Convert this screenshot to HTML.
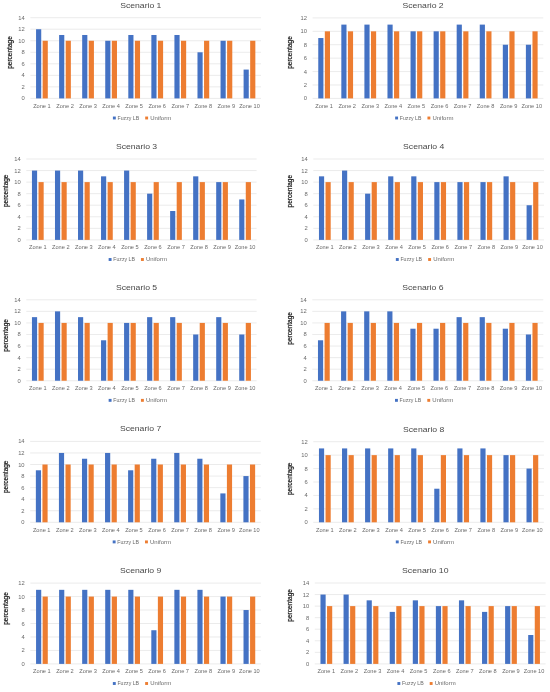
<!DOCTYPE html>
<html><head><meta charset="utf-8"><title>Scenarios</title>
<style>
html,body{margin:0;padding:0;background:#fff;}
body{width:550px;height:692px;overflow:hidden;}
svg{display:block;font-family:"Liberation Sans", sans-serif;filter:blur(0.3px);}
</style></head><body>
<svg width="550" height="692" viewBox="0 0 550 692">
<rect width="550" height="692" fill="#fff"/>
<g id="chart1">
<line x1="30.40" x2="261.00" y1="98.40" y2="98.40" stroke="#E2E2E2" stroke-width="0.7"/>
<text x="24.80" y="100.40" font-size="5.8" text-anchor="end" fill="#6a6a6a">0</text>
<line x1="30.40" x2="261.00" y1="86.87" y2="86.87" stroke="#E2E2E2" stroke-width="0.7"/>
<text x="24.80" y="88.87" font-size="5.8" text-anchor="end" fill="#6a6a6a">2</text>
<line x1="30.40" x2="261.00" y1="75.34" y2="75.34" stroke="#E2E2E2" stroke-width="0.7"/>
<text x="24.80" y="77.34" font-size="5.8" text-anchor="end" fill="#6a6a6a">4</text>
<line x1="30.40" x2="261.00" y1="63.81" y2="63.81" stroke="#E2E2E2" stroke-width="0.7"/>
<text x="24.80" y="65.81" font-size="5.8" text-anchor="end" fill="#6a6a6a">6</text>
<line x1="30.40" x2="261.00" y1="52.29" y2="52.29" stroke="#E2E2E2" stroke-width="0.7"/>
<text x="24.80" y="54.29" font-size="5.8" text-anchor="end" fill="#6a6a6a">8</text>
<line x1="30.40" x2="261.00" y1="40.76" y2="40.76" stroke="#E2E2E2" stroke-width="0.7"/>
<text x="24.80" y="42.76" font-size="5.8" text-anchor="end" fill="#6a6a6a">10</text>
<line x1="30.40" x2="261.00" y1="29.23" y2="29.23" stroke="#E2E2E2" stroke-width="0.7"/>
<text x="24.80" y="31.23" font-size="5.8" text-anchor="end" fill="#6a6a6a">12</text>
<line x1="30.40" x2="261.00" y1="17.70" y2="17.70" stroke="#E2E2E2" stroke-width="0.7"/>
<text x="24.80" y="19.70" font-size="5.8" text-anchor="end" fill="#6a6a6a">14</text>
<rect x="36.06" y="29.23" width="5.17" height="69.17" fill="#4472C4"/>
<rect x="42.63" y="40.76" width="5.17" height="57.64" fill="#ED7D31"/>
<text x="41.93" y="107.80" font-size="5.8" text-anchor="middle" fill="#6a6a6a" textLength="17.60" lengthAdjust="spacingAndGlyphs">Zone 1</text>
<rect x="59.12" y="34.99" width="5.17" height="63.41" fill="#4472C4"/>
<rect x="65.69" y="40.76" width="5.17" height="57.64" fill="#ED7D31"/>
<text x="64.99" y="107.80" font-size="5.8" text-anchor="middle" fill="#6a6a6a" textLength="17.60" lengthAdjust="spacingAndGlyphs">Zone 2</text>
<rect x="82.18" y="34.99" width="5.17" height="63.41" fill="#4472C4"/>
<rect x="88.75" y="40.76" width="5.17" height="57.64" fill="#ED7D31"/>
<text x="88.05" y="107.80" font-size="5.8" text-anchor="middle" fill="#6a6a6a" textLength="17.60" lengthAdjust="spacingAndGlyphs">Zone 3</text>
<rect x="105.24" y="40.76" width="5.17" height="57.64" fill="#4472C4"/>
<rect x="111.81" y="40.76" width="5.17" height="57.64" fill="#ED7D31"/>
<text x="111.11" y="107.80" font-size="5.8" text-anchor="middle" fill="#6a6a6a" textLength="17.60" lengthAdjust="spacingAndGlyphs">Zone 4</text>
<rect x="128.30" y="34.99" width="5.17" height="63.41" fill="#4472C4"/>
<rect x="134.87" y="40.76" width="5.17" height="57.64" fill="#ED7D31"/>
<text x="134.17" y="107.80" font-size="5.8" text-anchor="middle" fill="#6a6a6a" textLength="17.60" lengthAdjust="spacingAndGlyphs">Zone 5</text>
<rect x="151.36" y="34.99" width="5.17" height="63.41" fill="#4472C4"/>
<rect x="157.93" y="40.76" width="5.17" height="57.64" fill="#ED7D31"/>
<text x="157.23" y="107.80" font-size="5.8" text-anchor="middle" fill="#6a6a6a" textLength="17.60" lengthAdjust="spacingAndGlyphs">Zone 6</text>
<rect x="174.42" y="34.99" width="5.17" height="63.41" fill="#4472C4"/>
<rect x="180.99" y="40.76" width="5.17" height="57.64" fill="#ED7D31"/>
<text x="180.29" y="107.80" font-size="5.8" text-anchor="middle" fill="#6a6a6a" textLength="17.60" lengthAdjust="spacingAndGlyphs">Zone 7</text>
<rect x="197.48" y="52.29" width="5.17" height="46.11" fill="#4472C4"/>
<rect x="204.05" y="40.76" width="5.17" height="57.64" fill="#ED7D31"/>
<text x="203.35" y="107.80" font-size="5.8" text-anchor="middle" fill="#6a6a6a" textLength="17.60" lengthAdjust="spacingAndGlyphs">Zone 8</text>
<rect x="220.54" y="40.76" width="5.17" height="57.64" fill="#4472C4"/>
<rect x="227.11" y="40.76" width="5.17" height="57.64" fill="#ED7D31"/>
<text x="226.41" y="107.80" font-size="5.8" text-anchor="middle" fill="#6a6a6a" textLength="17.60" lengthAdjust="spacingAndGlyphs">Zone 9</text>
<rect x="243.60" y="69.58" width="5.17" height="28.82" fill="#4472C4"/>
<rect x="250.17" y="40.76" width="5.17" height="57.64" fill="#ED7D31"/>
<text x="249.47" y="107.80" font-size="5.8" text-anchor="middle" fill="#6a6a6a" textLength="20.60" lengthAdjust="spacingAndGlyphs">Zone 10</text>
<text x="140.80" y="7.75" font-size="7.7" text-anchor="middle" fill="#484848" textLength="41.30" lengthAdjust="spacingAndGlyphs">Scenario 1</text>
<rect x="112.90" y="116.55" width="2.9" height="2.9" fill="#4472C4"/>
<text x="117.50" y="119.90" font-size="5.6" text-anchor="start" fill="#6a6a6a" textLength="21.60" lengthAdjust="spacingAndGlyphs">Fuzzy LB</text>
<rect x="145.20" y="116.55" width="2.9" height="2.9" fill="#ED7D31"/>
<text x="150.20" y="119.90" font-size="5.6" text-anchor="start" fill="#6a6a6a" textLength="21.00" lengthAdjust="spacingAndGlyphs">Uniform</text>
<text transform="translate(12.00,52.50) rotate(-90)" font-size="6.6" text-anchor="middle" fill="#1a1a1a" stroke="#1a1a1a" stroke-width="0.22" textLength="32.6" lengthAdjust="spacingAndGlyphs">percentage</text>
</g>
<g id="chart2">
<line x1="312.60" x2="543.30" y1="98.40" y2="98.40" stroke="#E2E2E2" stroke-width="0.7"/>
<text x="307.00" y="100.40" font-size="5.8" text-anchor="end" fill="#6a6a6a">0</text>
<line x1="312.60" x2="543.30" y1="84.98" y2="84.98" stroke="#E2E2E2" stroke-width="0.7"/>
<text x="307.00" y="86.98" font-size="5.8" text-anchor="end" fill="#6a6a6a">2</text>
<line x1="312.60" x2="543.30" y1="71.57" y2="71.57" stroke="#E2E2E2" stroke-width="0.7"/>
<text x="307.00" y="73.57" font-size="5.8" text-anchor="end" fill="#6a6a6a">4</text>
<line x1="312.60" x2="543.30" y1="58.15" y2="58.15" stroke="#E2E2E2" stroke-width="0.7"/>
<text x="307.00" y="60.15" font-size="5.8" text-anchor="end" fill="#6a6a6a">6</text>
<line x1="312.60" x2="543.30" y1="44.73" y2="44.73" stroke="#E2E2E2" stroke-width="0.7"/>
<text x="307.00" y="46.73" font-size="5.8" text-anchor="end" fill="#6a6a6a">8</text>
<line x1="312.60" x2="543.30" y1="31.32" y2="31.32" stroke="#E2E2E2" stroke-width="0.7"/>
<text x="307.00" y="33.32" font-size="5.8" text-anchor="end" fill="#6a6a6a">10</text>
<line x1="312.60" x2="543.30" y1="17.90" y2="17.90" stroke="#E2E2E2" stroke-width="0.7"/>
<text x="307.00" y="19.90" font-size="5.8" text-anchor="end" fill="#6a6a6a">12</text>
<rect x="318.26" y="38.03" width="5.17" height="60.38" fill="#4472C4"/>
<rect x="324.83" y="31.32" width="5.17" height="67.08" fill="#ED7D31"/>
<text x="324.13" y="107.80" font-size="5.8" text-anchor="middle" fill="#6a6a6a" textLength="17.60" lengthAdjust="spacingAndGlyphs">Zone 1</text>
<rect x="341.33" y="24.61" width="5.17" height="73.79" fill="#4472C4"/>
<rect x="347.90" y="31.32" width="5.17" height="67.08" fill="#ED7D31"/>
<text x="347.21" y="107.80" font-size="5.8" text-anchor="middle" fill="#6a6a6a" textLength="17.60" lengthAdjust="spacingAndGlyphs">Zone 2</text>
<rect x="364.40" y="24.61" width="5.17" height="73.79" fill="#4472C4"/>
<rect x="370.97" y="31.32" width="5.17" height="67.08" fill="#ED7D31"/>
<text x="370.27" y="107.80" font-size="5.8" text-anchor="middle" fill="#6a6a6a" textLength="17.60" lengthAdjust="spacingAndGlyphs">Zone 3</text>
<rect x="387.47" y="24.61" width="5.17" height="73.79" fill="#4472C4"/>
<rect x="394.04" y="31.32" width="5.17" height="67.08" fill="#ED7D31"/>
<text x="393.35" y="107.80" font-size="5.8" text-anchor="middle" fill="#6a6a6a" textLength="17.60" lengthAdjust="spacingAndGlyphs">Zone 4</text>
<rect x="410.54" y="31.32" width="5.17" height="67.08" fill="#4472C4"/>
<rect x="417.11" y="31.32" width="5.17" height="67.08" fill="#ED7D31"/>
<text x="416.41" y="107.80" font-size="5.8" text-anchor="middle" fill="#6a6a6a" textLength="17.60" lengthAdjust="spacingAndGlyphs">Zone 5</text>
<rect x="433.61" y="31.32" width="5.17" height="67.08" fill="#4472C4"/>
<rect x="440.18" y="31.32" width="5.17" height="67.08" fill="#ED7D31"/>
<text x="439.49" y="107.80" font-size="5.8" text-anchor="middle" fill="#6a6a6a" textLength="17.60" lengthAdjust="spacingAndGlyphs">Zone 6</text>
<rect x="456.68" y="24.61" width="5.17" height="73.79" fill="#4472C4"/>
<rect x="463.25" y="31.32" width="5.17" height="67.08" fill="#ED7D31"/>
<text x="462.55" y="107.80" font-size="5.8" text-anchor="middle" fill="#6a6a6a" textLength="17.60" lengthAdjust="spacingAndGlyphs">Zone 7</text>
<rect x="479.75" y="24.61" width="5.17" height="73.79" fill="#4472C4"/>
<rect x="486.32" y="31.32" width="5.17" height="67.08" fill="#ED7D31"/>
<text x="485.62" y="107.80" font-size="5.8" text-anchor="middle" fill="#6a6a6a" textLength="17.60" lengthAdjust="spacingAndGlyphs">Zone 8</text>
<rect x="502.82" y="44.73" width="5.17" height="53.67" fill="#4472C4"/>
<rect x="509.39" y="31.32" width="5.17" height="67.08" fill="#ED7D31"/>
<text x="508.69" y="107.80" font-size="5.8" text-anchor="middle" fill="#6a6a6a" textLength="17.60" lengthAdjust="spacingAndGlyphs">Zone 9</text>
<rect x="525.89" y="44.73" width="5.17" height="53.67" fill="#4472C4"/>
<rect x="532.46" y="31.32" width="5.17" height="67.08" fill="#ED7D31"/>
<text x="531.76" y="107.80" font-size="5.8" text-anchor="middle" fill="#6a6a6a" textLength="20.60" lengthAdjust="spacingAndGlyphs">Zone 10</text>
<text x="423.05" y="7.95" font-size="7.7" text-anchor="middle" fill="#484848" textLength="41.30" lengthAdjust="spacingAndGlyphs">Scenario 2</text>
<rect x="395.15" y="116.55" width="2.9" height="2.9" fill="#4472C4"/>
<text x="399.75" y="119.90" font-size="5.6" text-anchor="start" fill="#6a6a6a" textLength="21.60" lengthAdjust="spacingAndGlyphs">Fuzzy LB</text>
<rect x="427.45" y="116.55" width="2.9" height="2.9" fill="#ED7D31"/>
<text x="432.45" y="119.90" font-size="5.6" text-anchor="start" fill="#6a6a6a" textLength="21.00" lengthAdjust="spacingAndGlyphs">Uniform</text>
<text transform="translate(291.50,52.50) rotate(-90)" font-size="6.6" text-anchor="middle" fill="#1a1a1a" stroke="#1a1a1a" stroke-width="0.22" textLength="32.6" lengthAdjust="spacingAndGlyphs">percentage</text>
</g>
<g id="chart3">
<line x1="26.30" x2="256.60" y1="239.90" y2="239.90" stroke="#E2E2E2" stroke-width="0.7"/>
<text x="20.70" y="241.90" font-size="5.8" text-anchor="end" fill="#6a6a6a">0</text>
<line x1="26.30" x2="256.60" y1="228.34" y2="228.34" stroke="#E2E2E2" stroke-width="0.7"/>
<text x="20.70" y="230.34" font-size="5.8" text-anchor="end" fill="#6a6a6a">2</text>
<line x1="26.30" x2="256.60" y1="216.79" y2="216.79" stroke="#E2E2E2" stroke-width="0.7"/>
<text x="20.70" y="218.79" font-size="5.8" text-anchor="end" fill="#6a6a6a">4</text>
<line x1="26.30" x2="256.60" y1="205.23" y2="205.23" stroke="#E2E2E2" stroke-width="0.7"/>
<text x="20.70" y="207.23" font-size="5.8" text-anchor="end" fill="#6a6a6a">6</text>
<line x1="26.30" x2="256.60" y1="193.67" y2="193.67" stroke="#E2E2E2" stroke-width="0.7"/>
<text x="20.70" y="195.67" font-size="5.8" text-anchor="end" fill="#6a6a6a">8</text>
<line x1="26.30" x2="256.60" y1="182.11" y2="182.11" stroke="#E2E2E2" stroke-width="0.7"/>
<text x="20.70" y="184.11" font-size="5.8" text-anchor="end" fill="#6a6a6a">10</text>
<line x1="26.30" x2="256.60" y1="170.56" y2="170.56" stroke="#E2E2E2" stroke-width="0.7"/>
<text x="20.70" y="172.56" font-size="5.8" text-anchor="end" fill="#6a6a6a">12</text>
<line x1="26.30" x2="256.60" y1="159.00" y2="159.00" stroke="#E2E2E2" stroke-width="0.7"/>
<text x="20.70" y="161.00" font-size="5.8" text-anchor="end" fill="#6a6a6a">14</text>
<rect x="31.95" y="170.56" width="5.16" height="69.34" fill="#4472C4"/>
<rect x="38.51" y="182.11" width="5.16" height="57.79" fill="#ED7D31"/>
<text x="37.81" y="249.30" font-size="5.8" text-anchor="middle" fill="#6a6a6a" textLength="17.60" lengthAdjust="spacingAndGlyphs">Zone 1</text>
<rect x="54.98" y="170.56" width="5.16" height="69.34" fill="#4472C4"/>
<rect x="61.54" y="182.11" width="5.16" height="57.79" fill="#ED7D31"/>
<text x="60.84" y="249.30" font-size="5.8" text-anchor="middle" fill="#6a6a6a" textLength="17.60" lengthAdjust="spacingAndGlyphs">Zone 2</text>
<rect x="78.01" y="170.56" width="5.16" height="69.34" fill="#4472C4"/>
<rect x="84.57" y="182.11" width="5.16" height="57.79" fill="#ED7D31"/>
<text x="83.88" y="249.30" font-size="5.8" text-anchor="middle" fill="#6a6a6a" textLength="17.60" lengthAdjust="spacingAndGlyphs">Zone 3</text>
<rect x="101.04" y="176.34" width="5.16" height="63.56" fill="#4472C4"/>
<rect x="107.60" y="182.11" width="5.16" height="57.79" fill="#ED7D31"/>
<text x="106.91" y="249.30" font-size="5.8" text-anchor="middle" fill="#6a6a6a" textLength="17.60" lengthAdjust="spacingAndGlyphs">Zone 4</text>
<rect x="124.07" y="170.56" width="5.16" height="69.34" fill="#4472C4"/>
<rect x="130.63" y="182.11" width="5.16" height="57.79" fill="#ED7D31"/>
<text x="129.94" y="249.30" font-size="5.8" text-anchor="middle" fill="#6a6a6a" textLength="17.60" lengthAdjust="spacingAndGlyphs">Zone 5</text>
<rect x="147.10" y="193.67" width="5.16" height="46.23" fill="#4472C4"/>
<rect x="153.66" y="182.11" width="5.16" height="57.79" fill="#ED7D31"/>
<text x="152.97" y="249.30" font-size="5.8" text-anchor="middle" fill="#6a6a6a" textLength="17.60" lengthAdjust="spacingAndGlyphs">Zone 6</text>
<rect x="170.13" y="211.01" width="5.16" height="28.89" fill="#4472C4"/>
<rect x="176.69" y="182.11" width="5.16" height="57.79" fill="#ED7D31"/>
<text x="176.00" y="249.30" font-size="5.8" text-anchor="middle" fill="#6a6a6a" textLength="17.60" lengthAdjust="spacingAndGlyphs">Zone 7</text>
<rect x="193.16" y="176.34" width="5.16" height="63.56" fill="#4472C4"/>
<rect x="199.72" y="182.11" width="5.16" height="57.79" fill="#ED7D31"/>
<text x="199.03" y="249.30" font-size="5.8" text-anchor="middle" fill="#6a6a6a" textLength="17.60" lengthAdjust="spacingAndGlyphs">Zone 8</text>
<rect x="216.19" y="182.11" width="5.16" height="57.79" fill="#4472C4"/>
<rect x="222.75" y="182.11" width="5.16" height="57.79" fill="#ED7D31"/>
<text x="222.06" y="249.30" font-size="5.8" text-anchor="middle" fill="#6a6a6a" textLength="17.60" lengthAdjust="spacingAndGlyphs">Zone 9</text>
<rect x="239.22" y="199.45" width="5.16" height="40.45" fill="#4472C4"/>
<rect x="245.78" y="182.11" width="5.16" height="57.79" fill="#ED7D31"/>
<text x="245.09" y="249.30" font-size="5.8" text-anchor="middle" fill="#6a6a6a" textLength="20.60" lengthAdjust="spacingAndGlyphs">Zone 10</text>
<text x="136.55" y="149.05" font-size="7.7" text-anchor="middle" fill="#484848" textLength="41.30" lengthAdjust="spacingAndGlyphs">Scenario 3</text>
<rect x="108.65" y="258.05" width="2.9" height="2.9" fill="#4472C4"/>
<text x="113.25" y="261.40" font-size="5.6" text-anchor="start" fill="#6a6a6a" textLength="21.60" lengthAdjust="spacingAndGlyphs">Fuzzy LB</text>
<rect x="140.95" y="258.05" width="2.9" height="2.9" fill="#ED7D31"/>
<text x="145.95" y="261.40" font-size="5.6" text-anchor="start" fill="#6a6a6a" textLength="21.00" lengthAdjust="spacingAndGlyphs">Uniform</text>
<text transform="translate(8.00,190.80) rotate(-90)" font-size="6.6" text-anchor="middle" fill="#1a1a1a" stroke="#1a1a1a" stroke-width="0.22" textLength="32.6" lengthAdjust="spacingAndGlyphs">percentage</text>
</g>
<g id="chart4">
<line x1="313.30" x2="544.00" y1="239.90" y2="239.90" stroke="#E2E2E2" stroke-width="0.7"/>
<text x="307.70" y="241.90" font-size="5.8" text-anchor="end" fill="#6a6a6a">0</text>
<line x1="313.30" x2="544.00" y1="228.34" y2="228.34" stroke="#E2E2E2" stroke-width="0.7"/>
<text x="307.70" y="230.34" font-size="5.8" text-anchor="end" fill="#6a6a6a">2</text>
<line x1="313.30" x2="544.00" y1="216.79" y2="216.79" stroke="#E2E2E2" stroke-width="0.7"/>
<text x="307.70" y="218.79" font-size="5.8" text-anchor="end" fill="#6a6a6a">4</text>
<line x1="313.30" x2="544.00" y1="205.23" y2="205.23" stroke="#E2E2E2" stroke-width="0.7"/>
<text x="307.70" y="207.23" font-size="5.8" text-anchor="end" fill="#6a6a6a">6</text>
<line x1="313.30" x2="544.00" y1="193.67" y2="193.67" stroke="#E2E2E2" stroke-width="0.7"/>
<text x="307.70" y="195.67" font-size="5.8" text-anchor="end" fill="#6a6a6a">8</text>
<line x1="313.30" x2="544.00" y1="182.11" y2="182.11" stroke="#E2E2E2" stroke-width="0.7"/>
<text x="307.70" y="184.11" font-size="5.8" text-anchor="end" fill="#6a6a6a">10</text>
<line x1="313.30" x2="544.00" y1="170.56" y2="170.56" stroke="#E2E2E2" stroke-width="0.7"/>
<text x="307.70" y="172.56" font-size="5.8" text-anchor="end" fill="#6a6a6a">12</text>
<line x1="313.30" x2="544.00" y1="159.00" y2="159.00" stroke="#E2E2E2" stroke-width="0.7"/>
<text x="307.70" y="161.00" font-size="5.8" text-anchor="end" fill="#6a6a6a">14</text>
<rect x="318.96" y="176.34" width="5.17" height="63.56" fill="#4472C4"/>
<rect x="325.53" y="182.11" width="5.17" height="57.79" fill="#ED7D31"/>
<text x="324.84" y="249.30" font-size="5.8" text-anchor="middle" fill="#6a6a6a" textLength="17.60" lengthAdjust="spacingAndGlyphs">Zone 1</text>
<rect x="342.03" y="170.56" width="5.17" height="69.34" fill="#4472C4"/>
<rect x="348.60" y="182.11" width="5.17" height="57.79" fill="#ED7D31"/>
<text x="347.91" y="249.30" font-size="5.8" text-anchor="middle" fill="#6a6a6a" textLength="17.60" lengthAdjust="spacingAndGlyphs">Zone 2</text>
<rect x="365.10" y="193.67" width="5.17" height="46.23" fill="#4472C4"/>
<rect x="371.67" y="182.11" width="5.17" height="57.79" fill="#ED7D31"/>
<text x="370.98" y="249.30" font-size="5.8" text-anchor="middle" fill="#6a6a6a" textLength="17.60" lengthAdjust="spacingAndGlyphs">Zone 3</text>
<rect x="388.17" y="176.34" width="5.17" height="63.56" fill="#4472C4"/>
<rect x="394.74" y="182.11" width="5.17" height="57.79" fill="#ED7D31"/>
<text x="394.05" y="249.30" font-size="5.8" text-anchor="middle" fill="#6a6a6a" textLength="17.60" lengthAdjust="spacingAndGlyphs">Zone 4</text>
<rect x="411.24" y="176.34" width="5.17" height="63.56" fill="#4472C4"/>
<rect x="417.81" y="182.11" width="5.17" height="57.79" fill="#ED7D31"/>
<text x="417.12" y="249.30" font-size="5.8" text-anchor="middle" fill="#6a6a6a" textLength="17.60" lengthAdjust="spacingAndGlyphs">Zone 5</text>
<rect x="434.31" y="182.11" width="5.17" height="57.79" fill="#4472C4"/>
<rect x="440.88" y="182.11" width="5.17" height="57.79" fill="#ED7D31"/>
<text x="440.19" y="249.30" font-size="5.8" text-anchor="middle" fill="#6a6a6a" textLength="17.60" lengthAdjust="spacingAndGlyphs">Zone 6</text>
<rect x="457.38" y="182.11" width="5.17" height="57.79" fill="#4472C4"/>
<rect x="463.95" y="182.11" width="5.17" height="57.79" fill="#ED7D31"/>
<text x="463.26" y="249.30" font-size="5.8" text-anchor="middle" fill="#6a6a6a" textLength="17.60" lengthAdjust="spacingAndGlyphs">Zone 7</text>
<rect x="480.45" y="182.11" width="5.17" height="57.79" fill="#4472C4"/>
<rect x="487.02" y="182.11" width="5.17" height="57.79" fill="#ED7D31"/>
<text x="486.33" y="249.30" font-size="5.8" text-anchor="middle" fill="#6a6a6a" textLength="17.60" lengthAdjust="spacingAndGlyphs">Zone 8</text>
<rect x="503.52" y="176.34" width="5.17" height="63.56" fill="#4472C4"/>
<rect x="510.09" y="182.11" width="5.17" height="57.79" fill="#ED7D31"/>
<text x="509.40" y="249.30" font-size="5.8" text-anchor="middle" fill="#6a6a6a" textLength="17.60" lengthAdjust="spacingAndGlyphs">Zone 9</text>
<rect x="526.59" y="205.23" width="5.17" height="34.67" fill="#4472C4"/>
<rect x="533.16" y="182.11" width="5.17" height="57.79" fill="#ED7D31"/>
<text x="532.47" y="249.30" font-size="5.8" text-anchor="middle" fill="#6a6a6a" textLength="20.60" lengthAdjust="spacingAndGlyphs">Zone 10</text>
<text x="423.75" y="149.05" font-size="7.7" text-anchor="middle" fill="#484848" textLength="41.30" lengthAdjust="spacingAndGlyphs">Scenario 4</text>
<rect x="395.85" y="258.05" width="2.9" height="2.9" fill="#4472C4"/>
<text x="400.45" y="261.40" font-size="5.6" text-anchor="start" fill="#6a6a6a" textLength="21.60" lengthAdjust="spacingAndGlyphs">Fuzzy LB</text>
<rect x="428.15" y="258.05" width="2.9" height="2.9" fill="#ED7D31"/>
<text x="433.15" y="261.40" font-size="5.6" text-anchor="start" fill="#6a6a6a" textLength="21.00" lengthAdjust="spacingAndGlyphs">Uniform</text>
<text transform="translate(291.50,191.20) rotate(-90)" font-size="6.6" text-anchor="middle" fill="#1a1a1a" stroke="#1a1a1a" stroke-width="0.22" textLength="32.6" lengthAdjust="spacingAndGlyphs">percentage</text>
</g>
<g id="chart5">
<line x1="26.30" x2="256.60" y1="380.75" y2="380.75" stroke="#E2E2E2" stroke-width="0.7"/>
<text x="20.70" y="382.75" font-size="5.8" text-anchor="end" fill="#6a6a6a">0</text>
<line x1="26.30" x2="256.60" y1="369.19" y2="369.19" stroke="#E2E2E2" stroke-width="0.7"/>
<text x="20.70" y="371.19" font-size="5.8" text-anchor="end" fill="#6a6a6a">2</text>
<line x1="26.30" x2="256.60" y1="357.62" y2="357.62" stroke="#E2E2E2" stroke-width="0.7"/>
<text x="20.70" y="359.62" font-size="5.8" text-anchor="end" fill="#6a6a6a">4</text>
<line x1="26.30" x2="256.60" y1="346.06" y2="346.06" stroke="#E2E2E2" stroke-width="0.7"/>
<text x="20.70" y="348.06" font-size="5.8" text-anchor="end" fill="#6a6a6a">6</text>
<line x1="26.30" x2="256.60" y1="334.49" y2="334.49" stroke="#E2E2E2" stroke-width="0.7"/>
<text x="20.70" y="336.49" font-size="5.8" text-anchor="end" fill="#6a6a6a">8</text>
<line x1="26.30" x2="256.60" y1="322.93" y2="322.93" stroke="#E2E2E2" stroke-width="0.7"/>
<text x="20.70" y="324.93" font-size="5.8" text-anchor="end" fill="#6a6a6a">10</text>
<line x1="26.30" x2="256.60" y1="311.36" y2="311.36" stroke="#E2E2E2" stroke-width="0.7"/>
<text x="20.70" y="313.36" font-size="5.8" text-anchor="end" fill="#6a6a6a">12</text>
<line x1="26.30" x2="256.60" y1="299.80" y2="299.80" stroke="#E2E2E2" stroke-width="0.7"/>
<text x="20.70" y="301.80" font-size="5.8" text-anchor="end" fill="#6a6a6a">14</text>
<rect x="31.95" y="317.15" width="5.16" height="63.60" fill="#4472C4"/>
<rect x="38.51" y="322.93" width="5.16" height="57.82" fill="#ED7D31"/>
<text x="37.81" y="390.15" font-size="5.8" text-anchor="middle" fill="#6a6a6a" textLength="17.60" lengthAdjust="spacingAndGlyphs">Zone 1</text>
<rect x="54.98" y="311.36" width="5.16" height="69.39" fill="#4472C4"/>
<rect x="61.54" y="322.93" width="5.16" height="57.82" fill="#ED7D31"/>
<text x="60.84" y="390.15" font-size="5.8" text-anchor="middle" fill="#6a6a6a" textLength="17.60" lengthAdjust="spacingAndGlyphs">Zone 2</text>
<rect x="78.01" y="317.15" width="5.16" height="63.60" fill="#4472C4"/>
<rect x="84.57" y="322.93" width="5.16" height="57.82" fill="#ED7D31"/>
<text x="83.88" y="390.15" font-size="5.8" text-anchor="middle" fill="#6a6a6a" textLength="17.60" lengthAdjust="spacingAndGlyphs">Zone 3</text>
<rect x="101.04" y="340.28" width="5.16" height="40.47" fill="#4472C4"/>
<rect x="107.60" y="322.93" width="5.16" height="57.82" fill="#ED7D31"/>
<text x="106.91" y="390.15" font-size="5.8" text-anchor="middle" fill="#6a6a6a" textLength="17.60" lengthAdjust="spacingAndGlyphs">Zone 4</text>
<rect x="124.07" y="322.93" width="5.16" height="57.82" fill="#4472C4"/>
<rect x="130.63" y="322.93" width="5.16" height="57.82" fill="#ED7D31"/>
<text x="129.94" y="390.15" font-size="5.8" text-anchor="middle" fill="#6a6a6a" textLength="17.60" lengthAdjust="spacingAndGlyphs">Zone 5</text>
<rect x="147.10" y="317.15" width="5.16" height="63.60" fill="#4472C4"/>
<rect x="153.66" y="322.93" width="5.16" height="57.82" fill="#ED7D31"/>
<text x="152.97" y="390.15" font-size="5.8" text-anchor="middle" fill="#6a6a6a" textLength="17.60" lengthAdjust="spacingAndGlyphs">Zone 6</text>
<rect x="170.13" y="317.15" width="5.16" height="63.60" fill="#4472C4"/>
<rect x="176.69" y="322.93" width="5.16" height="57.82" fill="#ED7D31"/>
<text x="176.00" y="390.15" font-size="5.8" text-anchor="middle" fill="#6a6a6a" textLength="17.60" lengthAdjust="spacingAndGlyphs">Zone 7</text>
<rect x="193.16" y="334.49" width="5.16" height="46.26" fill="#4472C4"/>
<rect x="199.72" y="322.93" width="5.16" height="57.82" fill="#ED7D31"/>
<text x="199.03" y="390.15" font-size="5.8" text-anchor="middle" fill="#6a6a6a" textLength="17.60" lengthAdjust="spacingAndGlyphs">Zone 8</text>
<rect x="216.19" y="317.15" width="5.16" height="63.60" fill="#4472C4"/>
<rect x="222.75" y="322.93" width="5.16" height="57.82" fill="#ED7D31"/>
<text x="222.06" y="390.15" font-size="5.8" text-anchor="middle" fill="#6a6a6a" textLength="17.60" lengthAdjust="spacingAndGlyphs">Zone 9</text>
<rect x="239.22" y="334.49" width="5.16" height="46.26" fill="#4472C4"/>
<rect x="245.78" y="322.93" width="5.16" height="57.82" fill="#ED7D31"/>
<text x="245.09" y="390.15" font-size="5.8" text-anchor="middle" fill="#6a6a6a" textLength="20.60" lengthAdjust="spacingAndGlyphs">Zone 10</text>
<text x="136.55" y="289.85" font-size="7.7" text-anchor="middle" fill="#484848" textLength="41.30" lengthAdjust="spacingAndGlyphs">Scenario 5</text>
<rect x="108.65" y="398.90" width="2.9" height="2.9" fill="#4472C4"/>
<text x="113.25" y="402.25" font-size="5.6" text-anchor="start" fill="#6a6a6a" textLength="21.60" lengthAdjust="spacingAndGlyphs">Fuzzy LB</text>
<rect x="140.95" y="398.90" width="2.9" height="2.9" fill="#ED7D31"/>
<text x="145.95" y="402.25" font-size="5.6" text-anchor="start" fill="#6a6a6a" textLength="21.00" lengthAdjust="spacingAndGlyphs">Uniform</text>
<text transform="translate(8.00,335.40) rotate(-90)" font-size="6.6" text-anchor="middle" fill="#1a1a1a" stroke="#1a1a1a" stroke-width="0.22" textLength="32.6" lengthAdjust="spacingAndGlyphs">percentage</text>
</g>
<g id="chart6">
<line x1="312.30" x2="543.30" y1="380.75" y2="380.75" stroke="#E2E2E2" stroke-width="0.7"/>
<text x="306.70" y="382.75" font-size="5.8" text-anchor="end" fill="#6a6a6a">0</text>
<line x1="312.30" x2="543.30" y1="369.19" y2="369.19" stroke="#E2E2E2" stroke-width="0.7"/>
<text x="306.70" y="371.19" font-size="5.8" text-anchor="end" fill="#6a6a6a">2</text>
<line x1="312.30" x2="543.30" y1="357.62" y2="357.62" stroke="#E2E2E2" stroke-width="0.7"/>
<text x="306.70" y="359.62" font-size="5.8" text-anchor="end" fill="#6a6a6a">4</text>
<line x1="312.30" x2="543.30" y1="346.06" y2="346.06" stroke="#E2E2E2" stroke-width="0.7"/>
<text x="306.70" y="348.06" font-size="5.8" text-anchor="end" fill="#6a6a6a">6</text>
<line x1="312.30" x2="543.30" y1="334.49" y2="334.49" stroke="#E2E2E2" stroke-width="0.7"/>
<text x="306.70" y="336.49" font-size="5.8" text-anchor="end" fill="#6a6a6a">8</text>
<line x1="312.30" x2="543.30" y1="322.93" y2="322.93" stroke="#E2E2E2" stroke-width="0.7"/>
<text x="306.70" y="324.93" font-size="5.8" text-anchor="end" fill="#6a6a6a">10</text>
<line x1="312.30" x2="543.30" y1="311.36" y2="311.36" stroke="#E2E2E2" stroke-width="0.7"/>
<text x="306.70" y="313.36" font-size="5.8" text-anchor="end" fill="#6a6a6a">12</text>
<line x1="312.30" x2="543.30" y1="299.80" y2="299.80" stroke="#E2E2E2" stroke-width="0.7"/>
<text x="306.70" y="301.80" font-size="5.8" text-anchor="end" fill="#6a6a6a">14</text>
<rect x="317.97" y="340.28" width="5.18" height="40.47" fill="#4472C4"/>
<rect x="324.55" y="322.93" width="5.18" height="57.82" fill="#ED7D31"/>
<text x="323.85" y="390.15" font-size="5.8" text-anchor="middle" fill="#6a6a6a" textLength="17.60" lengthAdjust="spacingAndGlyphs">Zone 1</text>
<rect x="341.07" y="311.36" width="5.18" height="69.39" fill="#4472C4"/>
<rect x="347.65" y="322.93" width="5.18" height="57.82" fill="#ED7D31"/>
<text x="346.95" y="390.15" font-size="5.8" text-anchor="middle" fill="#6a6a6a" textLength="17.60" lengthAdjust="spacingAndGlyphs">Zone 2</text>
<rect x="364.17" y="311.36" width="5.18" height="69.39" fill="#4472C4"/>
<rect x="370.75" y="322.93" width="5.18" height="57.82" fill="#ED7D31"/>
<text x="370.05" y="390.15" font-size="5.8" text-anchor="middle" fill="#6a6a6a" textLength="17.60" lengthAdjust="spacingAndGlyphs">Zone 3</text>
<rect x="387.27" y="311.36" width="5.18" height="69.39" fill="#4472C4"/>
<rect x="393.85" y="322.93" width="5.18" height="57.82" fill="#ED7D31"/>
<text x="393.15" y="390.15" font-size="5.8" text-anchor="middle" fill="#6a6a6a" textLength="17.60" lengthAdjust="spacingAndGlyphs">Zone 4</text>
<rect x="410.37" y="328.71" width="5.18" height="52.04" fill="#4472C4"/>
<rect x="416.95" y="322.93" width="5.18" height="57.82" fill="#ED7D31"/>
<text x="416.25" y="390.15" font-size="5.8" text-anchor="middle" fill="#6a6a6a" textLength="17.60" lengthAdjust="spacingAndGlyphs">Zone 5</text>
<rect x="433.47" y="328.71" width="5.18" height="52.04" fill="#4472C4"/>
<rect x="440.05" y="322.93" width="5.18" height="57.82" fill="#ED7D31"/>
<text x="439.35" y="390.15" font-size="5.8" text-anchor="middle" fill="#6a6a6a" textLength="17.60" lengthAdjust="spacingAndGlyphs">Zone 6</text>
<rect x="456.57" y="317.15" width="5.18" height="63.60" fill="#4472C4"/>
<rect x="463.15" y="322.93" width="5.18" height="57.82" fill="#ED7D31"/>
<text x="462.45" y="390.15" font-size="5.8" text-anchor="middle" fill="#6a6a6a" textLength="17.60" lengthAdjust="spacingAndGlyphs">Zone 7</text>
<rect x="479.67" y="317.15" width="5.18" height="63.60" fill="#4472C4"/>
<rect x="486.25" y="322.93" width="5.18" height="57.82" fill="#ED7D31"/>
<text x="485.55" y="390.15" font-size="5.8" text-anchor="middle" fill="#6a6a6a" textLength="17.60" lengthAdjust="spacingAndGlyphs">Zone 8</text>
<rect x="502.77" y="328.71" width="5.18" height="52.04" fill="#4472C4"/>
<rect x="509.35" y="322.93" width="5.18" height="57.82" fill="#ED7D31"/>
<text x="508.65" y="390.15" font-size="5.8" text-anchor="middle" fill="#6a6a6a" textLength="17.60" lengthAdjust="spacingAndGlyphs">Zone 9</text>
<rect x="525.87" y="334.49" width="5.18" height="46.26" fill="#4472C4"/>
<rect x="532.45" y="322.93" width="5.18" height="57.82" fill="#ED7D31"/>
<text x="531.75" y="390.15" font-size="5.8" text-anchor="middle" fill="#6a6a6a" textLength="20.60" lengthAdjust="spacingAndGlyphs">Zone 10</text>
<text x="422.90" y="289.85" font-size="7.7" text-anchor="middle" fill="#484848" textLength="41.30" lengthAdjust="spacingAndGlyphs">Scenario 6</text>
<rect x="395.00" y="398.90" width="2.9" height="2.9" fill="#4472C4"/>
<text x="399.60" y="402.25" font-size="5.6" text-anchor="start" fill="#6a6a6a" textLength="21.60" lengthAdjust="spacingAndGlyphs">Fuzzy LB</text>
<rect x="427.30" y="398.90" width="2.9" height="2.9" fill="#ED7D31"/>
<text x="432.30" y="402.25" font-size="5.6" text-anchor="start" fill="#6a6a6a" textLength="21.00" lengthAdjust="spacingAndGlyphs">Uniform</text>
<text transform="translate(291.50,328.40) rotate(-90)" font-size="6.6" text-anchor="middle" fill="#1a1a1a" stroke="#1a1a1a" stroke-width="0.22" textLength="32.6" lengthAdjust="spacingAndGlyphs">percentage</text>
</g>
<g id="chart7">
<line x1="30.20" x2="260.80" y1="522.30" y2="522.30" stroke="#E2E2E2" stroke-width="0.7"/>
<text x="24.60" y="524.30" font-size="5.8" text-anchor="end" fill="#6a6a6a">0</text>
<line x1="30.20" x2="260.80" y1="510.74" y2="510.74" stroke="#E2E2E2" stroke-width="0.7"/>
<text x="24.60" y="512.74" font-size="5.8" text-anchor="end" fill="#6a6a6a">2</text>
<line x1="30.20" x2="260.80" y1="499.19" y2="499.19" stroke="#E2E2E2" stroke-width="0.7"/>
<text x="24.60" y="501.19" font-size="5.8" text-anchor="end" fill="#6a6a6a">4</text>
<line x1="30.20" x2="260.80" y1="487.63" y2="487.63" stroke="#E2E2E2" stroke-width="0.7"/>
<text x="24.60" y="489.63" font-size="5.8" text-anchor="end" fill="#6a6a6a">6</text>
<line x1="30.20" x2="260.80" y1="476.07" y2="476.07" stroke="#E2E2E2" stroke-width="0.7"/>
<text x="24.60" y="478.07" font-size="5.8" text-anchor="end" fill="#6a6a6a">8</text>
<line x1="30.20" x2="260.80" y1="464.51" y2="464.51" stroke="#E2E2E2" stroke-width="0.7"/>
<text x="24.60" y="466.51" font-size="5.8" text-anchor="end" fill="#6a6a6a">10</text>
<line x1="30.20" x2="260.80" y1="452.96" y2="452.96" stroke="#E2E2E2" stroke-width="0.7"/>
<text x="24.60" y="454.96" font-size="5.8" text-anchor="end" fill="#6a6a6a">12</text>
<line x1="30.20" x2="260.80" y1="441.40" y2="441.40" stroke="#E2E2E2" stroke-width="0.7"/>
<text x="24.60" y="443.40" font-size="5.8" text-anchor="end" fill="#6a6a6a">14</text>
<rect x="35.86" y="470.29" width="5.17" height="52.01" fill="#4472C4"/>
<rect x="42.43" y="464.51" width="5.17" height="57.79" fill="#ED7D31"/>
<text x="41.73" y="531.70" font-size="5.8" text-anchor="middle" fill="#6a6a6a" textLength="17.60" lengthAdjust="spacingAndGlyphs">Zone 1</text>
<rect x="58.92" y="452.96" width="5.17" height="69.34" fill="#4472C4"/>
<rect x="65.49" y="464.51" width="5.17" height="57.79" fill="#ED7D31"/>
<text x="64.79" y="531.70" font-size="5.8" text-anchor="middle" fill="#6a6a6a" textLength="17.60" lengthAdjust="spacingAndGlyphs">Zone 2</text>
<rect x="81.98" y="458.74" width="5.17" height="63.56" fill="#4472C4"/>
<rect x="88.55" y="464.51" width="5.17" height="57.79" fill="#ED7D31"/>
<text x="87.85" y="531.70" font-size="5.8" text-anchor="middle" fill="#6a6a6a" textLength="17.60" lengthAdjust="spacingAndGlyphs">Zone 3</text>
<rect x="105.04" y="452.96" width="5.17" height="69.34" fill="#4472C4"/>
<rect x="111.61" y="464.51" width="5.17" height="57.79" fill="#ED7D31"/>
<text x="110.91" y="531.70" font-size="5.8" text-anchor="middle" fill="#6a6a6a" textLength="17.60" lengthAdjust="spacingAndGlyphs">Zone 4</text>
<rect x="128.10" y="470.29" width="5.17" height="52.01" fill="#4472C4"/>
<rect x="134.67" y="464.51" width="5.17" height="57.79" fill="#ED7D31"/>
<text x="133.97" y="531.70" font-size="5.8" text-anchor="middle" fill="#6a6a6a" textLength="17.60" lengthAdjust="spacingAndGlyphs">Zone 5</text>
<rect x="151.16" y="458.74" width="5.17" height="63.56" fill="#4472C4"/>
<rect x="157.73" y="464.51" width="5.17" height="57.79" fill="#ED7D31"/>
<text x="157.03" y="531.70" font-size="5.8" text-anchor="middle" fill="#6a6a6a" textLength="17.60" lengthAdjust="spacingAndGlyphs">Zone 6</text>
<rect x="174.22" y="452.96" width="5.17" height="69.34" fill="#4472C4"/>
<rect x="180.79" y="464.51" width="5.17" height="57.79" fill="#ED7D31"/>
<text x="180.09" y="531.70" font-size="5.8" text-anchor="middle" fill="#6a6a6a" textLength="17.60" lengthAdjust="spacingAndGlyphs">Zone 7</text>
<rect x="197.28" y="458.74" width="5.17" height="63.56" fill="#4472C4"/>
<rect x="203.85" y="464.51" width="5.17" height="57.79" fill="#ED7D31"/>
<text x="203.15" y="531.70" font-size="5.8" text-anchor="middle" fill="#6a6a6a" textLength="17.60" lengthAdjust="spacingAndGlyphs">Zone 8</text>
<rect x="220.34" y="493.41" width="5.17" height="28.89" fill="#4472C4"/>
<rect x="226.91" y="464.51" width="5.17" height="57.79" fill="#ED7D31"/>
<text x="226.21" y="531.70" font-size="5.8" text-anchor="middle" fill="#6a6a6a" textLength="17.60" lengthAdjust="spacingAndGlyphs">Zone 9</text>
<rect x="243.40" y="476.07" width="5.17" height="46.23" fill="#4472C4"/>
<rect x="249.97" y="464.51" width="5.17" height="57.79" fill="#ED7D31"/>
<text x="249.27" y="531.70" font-size="5.8" text-anchor="middle" fill="#6a6a6a" textLength="20.60" lengthAdjust="spacingAndGlyphs">Zone 10</text>
<text x="140.60" y="431.45" font-size="7.7" text-anchor="middle" fill="#484848" textLength="41.30" lengthAdjust="spacingAndGlyphs">Scenario 7</text>
<rect x="112.70" y="540.45" width="2.9" height="2.9" fill="#4472C4"/>
<text x="117.30" y="543.80" font-size="5.6" text-anchor="start" fill="#6a6a6a" textLength="21.60" lengthAdjust="spacingAndGlyphs">Fuzzy LB</text>
<rect x="145.00" y="540.45" width="2.9" height="2.9" fill="#ED7D31"/>
<text x="150.00" y="543.80" font-size="5.6" text-anchor="start" fill="#6a6a6a" textLength="21.00" lengthAdjust="spacingAndGlyphs">Uniform</text>
<text transform="translate(7.80,476.80) rotate(-90)" font-size="6.6" text-anchor="middle" fill="#1a1a1a" stroke="#1a1a1a" stroke-width="0.22" textLength="32.6" lengthAdjust="spacingAndGlyphs">percentage</text>
</g>
<g id="chart8">
<line x1="313.30" x2="543.90" y1="522.30" y2="522.30" stroke="#E2E2E2" stroke-width="0.7"/>
<text x="307.70" y="524.30" font-size="5.8" text-anchor="end" fill="#6a6a6a">0</text>
<line x1="313.30" x2="543.90" y1="508.87" y2="508.87" stroke="#E2E2E2" stroke-width="0.7"/>
<text x="307.70" y="510.87" font-size="5.8" text-anchor="end" fill="#6a6a6a">2</text>
<line x1="313.30" x2="543.90" y1="495.43" y2="495.43" stroke="#E2E2E2" stroke-width="0.7"/>
<text x="307.70" y="497.43" font-size="5.8" text-anchor="end" fill="#6a6a6a">4</text>
<line x1="313.30" x2="543.90" y1="482.00" y2="482.00" stroke="#E2E2E2" stroke-width="0.7"/>
<text x="307.70" y="484.00" font-size="5.8" text-anchor="end" fill="#6a6a6a">6</text>
<line x1="313.30" x2="543.90" y1="468.57" y2="468.57" stroke="#E2E2E2" stroke-width="0.7"/>
<text x="307.70" y="470.57" font-size="5.8" text-anchor="end" fill="#6a6a6a">8</text>
<line x1="313.30" x2="543.90" y1="455.13" y2="455.13" stroke="#E2E2E2" stroke-width="0.7"/>
<text x="307.70" y="457.13" font-size="5.8" text-anchor="end" fill="#6a6a6a">10</text>
<line x1="313.30" x2="543.90" y1="441.70" y2="441.70" stroke="#E2E2E2" stroke-width="0.7"/>
<text x="307.70" y="443.70" font-size="5.8" text-anchor="end" fill="#6a6a6a">12</text>
<rect x="318.96" y="448.42" width="5.17" height="73.88" fill="#4472C4"/>
<rect x="325.53" y="455.13" width="5.17" height="67.17" fill="#ED7D31"/>
<text x="324.83" y="531.70" font-size="5.8" text-anchor="middle" fill="#6a6a6a" textLength="17.60" lengthAdjust="spacingAndGlyphs">Zone 1</text>
<rect x="342.02" y="448.42" width="5.17" height="73.88" fill="#4472C4"/>
<rect x="348.59" y="455.13" width="5.17" height="67.17" fill="#ED7D31"/>
<text x="347.89" y="531.70" font-size="5.8" text-anchor="middle" fill="#6a6a6a" textLength="17.60" lengthAdjust="spacingAndGlyphs">Zone 2</text>
<rect x="365.08" y="448.42" width="5.17" height="73.88" fill="#4472C4"/>
<rect x="371.65" y="455.13" width="5.17" height="67.17" fill="#ED7D31"/>
<text x="370.95" y="531.70" font-size="5.8" text-anchor="middle" fill="#6a6a6a" textLength="17.60" lengthAdjust="spacingAndGlyphs">Zone 3</text>
<rect x="388.14" y="448.42" width="5.17" height="73.88" fill="#4472C4"/>
<rect x="394.71" y="455.13" width="5.17" height="67.17" fill="#ED7D31"/>
<text x="394.01" y="531.70" font-size="5.8" text-anchor="middle" fill="#6a6a6a" textLength="17.60" lengthAdjust="spacingAndGlyphs">Zone 4</text>
<rect x="411.20" y="448.42" width="5.17" height="73.88" fill="#4472C4"/>
<rect x="417.77" y="455.13" width="5.17" height="67.17" fill="#ED7D31"/>
<text x="417.07" y="531.70" font-size="5.8" text-anchor="middle" fill="#6a6a6a" textLength="17.60" lengthAdjust="spacingAndGlyphs">Zone 5</text>
<rect x="434.26" y="488.72" width="5.17" height="33.58" fill="#4472C4"/>
<rect x="440.83" y="455.13" width="5.17" height="67.17" fill="#ED7D31"/>
<text x="440.13" y="531.70" font-size="5.8" text-anchor="middle" fill="#6a6a6a" textLength="17.60" lengthAdjust="spacingAndGlyphs">Zone 6</text>
<rect x="457.32" y="448.42" width="5.17" height="73.88" fill="#4472C4"/>
<rect x="463.89" y="455.13" width="5.17" height="67.17" fill="#ED7D31"/>
<text x="463.19" y="531.70" font-size="5.8" text-anchor="middle" fill="#6a6a6a" textLength="17.60" lengthAdjust="spacingAndGlyphs">Zone 7</text>
<rect x="480.38" y="448.42" width="5.17" height="73.88" fill="#4472C4"/>
<rect x="486.95" y="455.13" width="5.17" height="67.17" fill="#ED7D31"/>
<text x="486.25" y="531.70" font-size="5.8" text-anchor="middle" fill="#6a6a6a" textLength="17.60" lengthAdjust="spacingAndGlyphs">Zone 8</text>
<rect x="503.44" y="455.13" width="5.17" height="67.17" fill="#4472C4"/>
<rect x="510.01" y="455.13" width="5.17" height="67.17" fill="#ED7D31"/>
<text x="509.31" y="531.70" font-size="5.8" text-anchor="middle" fill="#6a6a6a" textLength="17.60" lengthAdjust="spacingAndGlyphs">Zone 9</text>
<rect x="526.50" y="468.57" width="5.17" height="53.73" fill="#4472C4"/>
<rect x="533.07" y="455.13" width="5.17" height="67.17" fill="#ED7D31"/>
<text x="532.37" y="531.70" font-size="5.8" text-anchor="middle" fill="#6a6a6a" textLength="20.60" lengthAdjust="spacingAndGlyphs">Zone 10</text>
<text x="423.70" y="431.75" font-size="7.7" text-anchor="middle" fill="#484848" textLength="41.30" lengthAdjust="spacingAndGlyphs">Scenario 8</text>
<rect x="395.80" y="540.45" width="2.9" height="2.9" fill="#4472C4"/>
<text x="400.40" y="543.80" font-size="5.6" text-anchor="start" fill="#6a6a6a" textLength="21.60" lengthAdjust="spacingAndGlyphs">Fuzzy LB</text>
<rect x="428.10" y="540.45" width="2.9" height="2.9" fill="#ED7D31"/>
<text x="433.10" y="543.80" font-size="5.6" text-anchor="start" fill="#6a6a6a" textLength="21.00" lengthAdjust="spacingAndGlyphs">Uniform</text>
<text transform="translate(291.80,478.80) rotate(-90)" font-size="6.6" text-anchor="middle" fill="#1a1a1a" stroke="#1a1a1a" stroke-width="0.22" textLength="32.6" lengthAdjust="spacingAndGlyphs">percentage</text>
</g>
<g id="chart9">
<line x1="30.40" x2="260.90" y1="663.90" y2="663.90" stroke="#E2E2E2" stroke-width="0.7"/>
<text x="24.80" y="665.90" font-size="5.8" text-anchor="end" fill="#6a6a6a">0</text>
<line x1="30.40" x2="260.90" y1="650.43" y2="650.43" stroke="#E2E2E2" stroke-width="0.7"/>
<text x="24.80" y="652.43" font-size="5.8" text-anchor="end" fill="#6a6a6a">2</text>
<line x1="30.40" x2="260.90" y1="636.97" y2="636.97" stroke="#E2E2E2" stroke-width="0.7"/>
<text x="24.80" y="638.97" font-size="5.8" text-anchor="end" fill="#6a6a6a">4</text>
<line x1="30.40" x2="260.90" y1="623.50" y2="623.50" stroke="#E2E2E2" stroke-width="0.7"/>
<text x="24.80" y="625.50" font-size="5.8" text-anchor="end" fill="#6a6a6a">6</text>
<line x1="30.40" x2="260.90" y1="610.03" y2="610.03" stroke="#E2E2E2" stroke-width="0.7"/>
<text x="24.80" y="612.03" font-size="5.8" text-anchor="end" fill="#6a6a6a">8</text>
<line x1="30.40" x2="260.90" y1="596.57" y2="596.57" stroke="#E2E2E2" stroke-width="0.7"/>
<text x="24.80" y="598.57" font-size="5.8" text-anchor="end" fill="#6a6a6a">10</text>
<line x1="30.40" x2="260.90" y1="583.10" y2="583.10" stroke="#E2E2E2" stroke-width="0.7"/>
<text x="24.80" y="585.10" font-size="5.8" text-anchor="end" fill="#6a6a6a">12</text>
<rect x="36.06" y="589.83" width="5.17" height="74.07" fill="#4472C4"/>
<rect x="42.62" y="596.57" width="5.17" height="67.33" fill="#ED7D31"/>
<text x="41.92" y="673.30" font-size="5.8" text-anchor="middle" fill="#6a6a6a" textLength="17.60" lengthAdjust="spacingAndGlyphs">Zone 1</text>
<rect x="59.11" y="589.83" width="5.17" height="74.07" fill="#4472C4"/>
<rect x="65.67" y="596.57" width="5.17" height="67.33" fill="#ED7D31"/>
<text x="64.97" y="673.30" font-size="5.8" text-anchor="middle" fill="#6a6a6a" textLength="17.60" lengthAdjust="spacingAndGlyphs">Zone 2</text>
<rect x="82.16" y="589.83" width="5.17" height="74.07" fill="#4472C4"/>
<rect x="88.72" y="596.57" width="5.17" height="67.33" fill="#ED7D31"/>
<text x="88.03" y="673.30" font-size="5.8" text-anchor="middle" fill="#6a6a6a" textLength="17.60" lengthAdjust="spacingAndGlyphs">Zone 3</text>
<rect x="105.21" y="589.83" width="5.17" height="74.07" fill="#4472C4"/>
<rect x="111.77" y="596.57" width="5.17" height="67.33" fill="#ED7D31"/>
<text x="111.07" y="673.30" font-size="5.8" text-anchor="middle" fill="#6a6a6a" textLength="17.60" lengthAdjust="spacingAndGlyphs">Zone 4</text>
<rect x="128.26" y="589.83" width="5.17" height="74.07" fill="#4472C4"/>
<rect x="134.82" y="596.57" width="5.17" height="67.33" fill="#ED7D31"/>
<text x="134.12" y="673.30" font-size="5.8" text-anchor="middle" fill="#6a6a6a" textLength="17.60" lengthAdjust="spacingAndGlyphs">Zone 5</text>
<rect x="151.31" y="630.23" width="5.17" height="33.67" fill="#4472C4"/>
<rect x="157.87" y="596.57" width="5.17" height="67.33" fill="#ED7D31"/>
<text x="157.17" y="673.30" font-size="5.8" text-anchor="middle" fill="#6a6a6a" textLength="17.60" lengthAdjust="spacingAndGlyphs">Zone 6</text>
<rect x="174.36" y="589.83" width="5.17" height="74.07" fill="#4472C4"/>
<rect x="180.92" y="596.57" width="5.17" height="67.33" fill="#ED7D31"/>
<text x="180.22" y="673.30" font-size="5.8" text-anchor="middle" fill="#6a6a6a" textLength="17.60" lengthAdjust="spacingAndGlyphs">Zone 7</text>
<rect x="197.41" y="589.83" width="5.17" height="74.07" fill="#4472C4"/>
<rect x="203.97" y="596.57" width="5.17" height="67.33" fill="#ED7D31"/>
<text x="203.27" y="673.30" font-size="5.8" text-anchor="middle" fill="#6a6a6a" textLength="17.60" lengthAdjust="spacingAndGlyphs">Zone 8</text>
<rect x="220.46" y="596.57" width="5.17" height="67.33" fill="#4472C4"/>
<rect x="227.02" y="596.57" width="5.17" height="67.33" fill="#ED7D31"/>
<text x="226.32" y="673.30" font-size="5.8" text-anchor="middle" fill="#6a6a6a" textLength="17.60" lengthAdjust="spacingAndGlyphs">Zone 9</text>
<rect x="243.51" y="610.03" width="5.17" height="53.87" fill="#4472C4"/>
<rect x="250.07" y="596.57" width="5.17" height="67.33" fill="#ED7D31"/>
<text x="249.38" y="673.30" font-size="5.8" text-anchor="middle" fill="#6a6a6a" textLength="20.60" lengthAdjust="spacingAndGlyphs">Zone 10</text>
<text x="140.75" y="573.15" font-size="7.7" text-anchor="middle" fill="#484848" textLength="41.30" lengthAdjust="spacingAndGlyphs">Scenario 9</text>
<rect x="112.85" y="682.05" width="2.9" height="2.9" fill="#4472C4"/>
<text x="117.45" y="685.40" font-size="5.6" text-anchor="start" fill="#6a6a6a" textLength="21.60" lengthAdjust="spacingAndGlyphs">Fuzzy LB</text>
<rect x="145.15" y="682.05" width="2.9" height="2.9" fill="#ED7D31"/>
<text x="150.15" y="685.40" font-size="5.6" text-anchor="start" fill="#6a6a6a" textLength="21.00" lengthAdjust="spacingAndGlyphs">Uniform</text>
<text transform="translate(8.30,608.50) rotate(-90)" font-size="6.6" text-anchor="middle" fill="#1a1a1a" stroke="#1a1a1a" stroke-width="0.22" textLength="32.6" lengthAdjust="spacingAndGlyphs">percentage</text>
</g>
<g id="chart10">
<line x1="314.80" x2="545.60" y1="663.90" y2="663.90" stroke="#E2E2E2" stroke-width="0.7"/>
<text x="309.20" y="665.90" font-size="5.8" text-anchor="end" fill="#6a6a6a">0</text>
<line x1="314.80" x2="545.60" y1="652.34" y2="652.34" stroke="#E2E2E2" stroke-width="0.7"/>
<text x="309.20" y="654.34" font-size="5.8" text-anchor="end" fill="#6a6a6a">2</text>
<line x1="314.80" x2="545.60" y1="640.79" y2="640.79" stroke="#E2E2E2" stroke-width="0.7"/>
<text x="309.20" y="642.79" font-size="5.8" text-anchor="end" fill="#6a6a6a">4</text>
<line x1="314.80" x2="545.60" y1="629.23" y2="629.23" stroke="#E2E2E2" stroke-width="0.7"/>
<text x="309.20" y="631.23" font-size="5.8" text-anchor="end" fill="#6a6a6a">6</text>
<line x1="314.80" x2="545.60" y1="617.67" y2="617.67" stroke="#E2E2E2" stroke-width="0.7"/>
<text x="309.20" y="619.67" font-size="5.8" text-anchor="end" fill="#6a6a6a">8</text>
<line x1="314.80" x2="545.60" y1="606.11" y2="606.11" stroke="#E2E2E2" stroke-width="0.7"/>
<text x="309.20" y="608.11" font-size="5.8" text-anchor="end" fill="#6a6a6a">10</text>
<line x1="314.80" x2="545.60" y1="594.56" y2="594.56" stroke="#E2E2E2" stroke-width="0.7"/>
<text x="309.20" y="596.56" font-size="5.8" text-anchor="end" fill="#6a6a6a">12</text>
<line x1="314.80" x2="545.60" y1="583.00" y2="583.00" stroke="#E2E2E2" stroke-width="0.7"/>
<text x="309.20" y="585.00" font-size="5.8" text-anchor="end" fill="#6a6a6a">14</text>
<rect x="320.47" y="594.56" width="5.17" height="69.34" fill="#4472C4"/>
<rect x="327.04" y="606.11" width="5.17" height="57.79" fill="#ED7D31"/>
<text x="326.34" y="673.30" font-size="5.8" text-anchor="middle" fill="#6a6a6a" textLength="17.60" lengthAdjust="spacingAndGlyphs">Zone 1</text>
<rect x="343.55" y="594.56" width="5.17" height="69.34" fill="#4472C4"/>
<rect x="350.12" y="606.11" width="5.17" height="57.79" fill="#ED7D31"/>
<text x="349.42" y="673.30" font-size="5.8" text-anchor="middle" fill="#6a6a6a" textLength="17.60" lengthAdjust="spacingAndGlyphs">Zone 2</text>
<rect x="366.63" y="600.34" width="5.17" height="63.56" fill="#4472C4"/>
<rect x="373.20" y="606.11" width="5.17" height="57.79" fill="#ED7D31"/>
<text x="372.50" y="673.30" font-size="5.8" text-anchor="middle" fill="#6a6a6a" textLength="17.60" lengthAdjust="spacingAndGlyphs">Zone 3</text>
<rect x="389.71" y="611.89" width="5.17" height="52.01" fill="#4472C4"/>
<rect x="396.28" y="606.11" width="5.17" height="57.79" fill="#ED7D31"/>
<text x="395.58" y="673.30" font-size="5.8" text-anchor="middle" fill="#6a6a6a" textLength="17.60" lengthAdjust="spacingAndGlyphs">Zone 4</text>
<rect x="412.79" y="600.34" width="5.17" height="63.56" fill="#4472C4"/>
<rect x="419.36" y="606.11" width="5.17" height="57.79" fill="#ED7D31"/>
<text x="418.66" y="673.30" font-size="5.8" text-anchor="middle" fill="#6a6a6a" textLength="17.60" lengthAdjust="spacingAndGlyphs">Zone 5</text>
<rect x="435.87" y="606.11" width="5.17" height="57.79" fill="#4472C4"/>
<rect x="442.44" y="606.11" width="5.17" height="57.79" fill="#ED7D31"/>
<text x="441.74" y="673.30" font-size="5.8" text-anchor="middle" fill="#6a6a6a" textLength="17.60" lengthAdjust="spacingAndGlyphs">Zone 6</text>
<rect x="458.95" y="600.34" width="5.17" height="63.56" fill="#4472C4"/>
<rect x="465.52" y="606.11" width="5.17" height="57.79" fill="#ED7D31"/>
<text x="464.82" y="673.30" font-size="5.8" text-anchor="middle" fill="#6a6a6a" textLength="17.60" lengthAdjust="spacingAndGlyphs">Zone 7</text>
<rect x="482.03" y="611.89" width="5.17" height="52.01" fill="#4472C4"/>
<rect x="488.60" y="606.11" width="5.17" height="57.79" fill="#ED7D31"/>
<text x="487.90" y="673.30" font-size="5.8" text-anchor="middle" fill="#6a6a6a" textLength="17.60" lengthAdjust="spacingAndGlyphs">Zone 8</text>
<rect x="505.11" y="606.11" width="5.17" height="57.79" fill="#4472C4"/>
<rect x="511.68" y="606.11" width="5.17" height="57.79" fill="#ED7D31"/>
<text x="510.98" y="673.30" font-size="5.8" text-anchor="middle" fill="#6a6a6a" textLength="17.60" lengthAdjust="spacingAndGlyphs">Zone 9</text>
<rect x="528.19" y="635.01" width="5.17" height="28.89" fill="#4472C4"/>
<rect x="534.76" y="606.11" width="5.17" height="57.79" fill="#ED7D31"/>
<text x="534.06" y="673.30" font-size="5.8" text-anchor="middle" fill="#6a6a6a" textLength="20.60" lengthAdjust="spacingAndGlyphs">Zone 10</text>
<text x="425.30" y="573.05" font-size="7.7" text-anchor="middle" fill="#484848" textLength="46.50" lengthAdjust="spacingAndGlyphs">Scenario 10</text>
<rect x="397.40" y="682.05" width="2.9" height="2.9" fill="#4472C4"/>
<text x="402.00" y="685.40" font-size="5.6" text-anchor="start" fill="#6a6a6a" textLength="21.60" lengthAdjust="spacingAndGlyphs">Fuzzy LB</text>
<rect x="429.70" y="682.05" width="2.9" height="2.9" fill="#ED7D31"/>
<text x="434.70" y="685.40" font-size="5.6" text-anchor="start" fill="#6a6a6a" textLength="21.00" lengthAdjust="spacingAndGlyphs">Uniform</text>
<text transform="translate(291.50,605.40) rotate(-90)" font-size="6.6" text-anchor="middle" fill="#1a1a1a" stroke="#1a1a1a" stroke-width="0.22" textLength="32.6" lengthAdjust="spacingAndGlyphs">percentage</text>
</g>
</svg>
</body></html>
